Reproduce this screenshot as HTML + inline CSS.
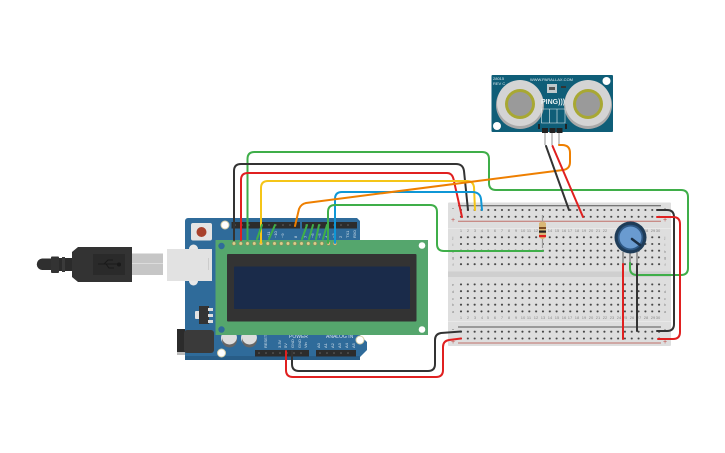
<!DOCTYPE html>
<html><head><meta charset="utf-8"><style>
html,body{margin:0;padding:0;background:#fff;width:725px;height:453px;overflow:hidden}
svg{display:block;filter:blur(.35px)}
text{font-family:"Liberation Sans",sans-serif}
</style></head><body>
<svg width="725" height="453" viewBox="0 0 725 453" xmlns="http://www.w3.org/2000/svg">
<!-- USB -->
<rect x="132" y="253.500" width="31" height="21.500" fill="#c6c6c6"/><rect x="132" y="263" width="31" height="1" fill="#dcdcdc"/>
<path d="M42 258.500H52V270H42a6 5.800 0 0 1 0-11.500z" fill="#2f2f2f"/>
<rect x="51" y="256.500" width="8" height="16.500" rx="1" fill="#333"/>
<path d="M59 258H72V271H59z" fill="#2b2b2b"/><rect x="62" y="257" width="3" height="15" fill="#3a3a3a"/>
<path d="M72 252l6-5H132V282H78l-6-5z" fill="#333"/>
<rect x="93" y="254" width="32" height="21" fill="#2a2a2a"/>
<path d="M98 264H120M104 264l4-4h5M106 264l3 4h5" stroke="#191919" fill="none" stroke-width="1"/><circle cx="119" cy="264.500" r="2" fill="#191919"/>
<!-- Arduino -->
<path d="M187 218H357L360 221V335L367 342V350L360 357V360H188a3 3 0 0 1-3-3V221a3 3 0 0 1 3-3z" fill="#2f6b9a"/>
<rect x="185" y="356" width="175" height="4" fill="#285d87"/>
<circle cx="193.500" cy="249" r="4.500" fill="#e8e8e8"/><circle cx="193.500" cy="281" r="4.500" fill="#e8e8e8"/>
<rect x="167" y="249" width="45" height="32" fill="#e2e2e2"/><rect x="208" y="258" width="1" height="12" fill="#ccc"/>
<rect x="191" y="223" width="21" height="17.500" rx="2" fill="#e4e4e4"/><circle cx="201.500" cy="232" r="5" fill="#a8412c"/>
<circle cx="225" cy="225" r="4" fill="#fff" stroke="#d8d0a8"/>
<circle cx="221.500" cy="353" r="4" fill="#fff" stroke="#d8d0a8"/>
<circle cx="360" cy="340" r="4" fill="#fff" stroke="#d8d0a8"/>
<!-- regulator -->
<rect x="195" y="311" width="6" height="8" rx="1" fill="#e2e2e2"/><rect x="199" y="306" width="10" height="18" fill="#333"/><rect x="208" y="308" width="5" height="3" fill="#ddd"/><rect x="208" y="314" width="5" height="3" fill="#ddd"/><rect x="208" y="320" width="5" height="3" fill="#ddd"/>
<!-- jack -->
<rect x="177" y="329" width="8" height="26" fill="#2b2b2b"/><rect x="177" y="352" width="8" height="3" fill="#bbb"/>
<rect x="184" y="330" width="30" height="23" rx="3" fill="#3a3a3a"/>
<!-- caps -->
<circle cx="229" cy="338" r="8" fill="#ddd"/><path d="M222 337a7.500 7.500 0 0 0 15 0v3a7.500 7.500 0 0 1-15 0z" fill="#666"/>
<circle cx="249" cy="338" r="8" fill="#ddd"/><path d="M242 337a7.500 7.500 0 0 0 15 0v3a7.500 7.500 0 0 1-15 0z" fill="#666"/>
<!-- headers -->
<rect x="231.500" y="222" width="68.500" height="6.500" fill="#2c2c2c"/><rect x="302" y="222" width="55" height="6.500" fill="#2c2c2c"/>
<rect x="255" y="350" width="54" height="6.500" fill="#2c2c2c"/><rect x="316" y="350" width="40" height="6.500" fill="#2c2c2c"/>
<g fill="#666"><circle cx="235" cy="225" r=".8"/><circle cx="242" cy="225" r=".8"/><circle cx="249" cy="225" r=".8"/><circle cx="262" cy="225" r=".8"/><circle cx="269" cy="225" r=".8"/><circle cx="276" cy="225" r=".8"/><circle cx="283" cy="225" r=".8"/><circle cx="290" cy="225" r=".8"/><circle cx="306" cy="225" r=".8"/><circle cx="313" cy="225" r=".8"/><circle cx="320" cy="225" r=".8"/><circle cx="327" cy="225" r=".8"/><circle cx="334" cy="225" r=".8"/><circle cx="341" cy="225" r=".8"/><circle cx="348" cy="225" r=".8"/><circle cx="259" cy="353" r=".8"/><circle cx="266" cy="353" r=".8"/><circle cx="273" cy="353" r=".8"/><circle cx="280" cy="353" r=".8"/><circle cx="287" cy="353" r=".8"/><circle cx="294" cy="353" r=".8"/><circle cx="301" cy="353" r=".8"/><circle cx="320" cy="353" r=".8"/><circle cx="327" cy="353" r=".8"/><circle cx="334" cy="353" r=".8"/><circle cx="341" cy="353" r=".8"/><circle cx="348" cy="353" r=".8"/></g>
<g fill="#d6e2ec" font-size="4">
<text x="289" y="338" font-size="5">POWER</text><text x="326" y="338" font-size="5">ANALOG IN</text>
<text transform="translate(320,348) rotate(-90)">A0</text><text transform="translate(327,348) rotate(-90)">A1</text><text transform="translate(334,348) rotate(-90)">A2</text><text transform="translate(341,348) rotate(-90)">A3</text><text transform="translate(348,348) rotate(-90)">A4</text><text transform="translate(355,348) rotate(-90)">A5</text>
<text transform="translate(267,348) rotate(-90)">RESET</text><text transform="translate(281,348) rotate(-90)">3.3V</text><text transform="translate(287,348) rotate(-90)">5V</text><text transform="translate(294,348) rotate(-90)">GND</text><text transform="translate(301,348) rotate(-90)">GND</text><text transform="translate(307,348) rotate(-90)">Vin</text>
<text transform="translate(270,238) rotate(-90)">~11</text><text transform="translate(277,238) rotate(-90)">~10</text><text transform="translate(284,238) rotate(-90)">~9</text><text transform="translate(297,238) rotate(-90)">8</text><text transform="translate(307,238) rotate(-90)">7</text><text transform="translate(314,238) rotate(-90)">~6</text><text transform="translate(321,238) rotate(-90)">~5</text><text transform="translate(328,238) rotate(-90)">4</text><text transform="translate(335,238) rotate(-90)">~3</text><text transform="translate(342,238) rotate(-90)">2</text><text transform="translate(349,238) rotate(-90)">TX1</text><text transform="translate(356,238) rotate(-90)">RX0</text>
</g>
<!-- LCD -->
<rect x="215.500" y="240" width="212.500" height="95" fill="#55a66d"/>
<rect x="227" y="254" width="189.500" height="67.500" rx="1" fill="#333"/>
<rect x="234" y="266.500" width="176" height="42.500" rx="1" fill="#1a2b4a"/>
<circle cx="221.500" cy="246" r="3.200" fill="#2f6b9a"/><circle cx="221.500" cy="329.500" r="3.200" fill="#2f6b9a"/>
<circle cx="422" cy="245.500" r="3.300" fill="#fff"/><circle cx="422" cy="329.500" r="3.300" fill="#fff"/>
<g fill="#d9cf8a" stroke="#8f8a5a" stroke-width=".7"><circle cx="234" cy="243.500" r="1.800"/><circle cx="240.800" cy="243.500" r="1.800"/><circle cx="247.500" cy="243.500" r="1.800"/><circle cx="254.300" cy="243.500" r="1.800"/><circle cx="261" cy="243.500" r="1.800"/><circle cx="267.800" cy="243.500" r="1.800"/><circle cx="274.500" cy="243.500" r="1.800"/><circle cx="281.300" cy="243.500" r="1.800"/><circle cx="288" cy="243.500" r="1.800"/><circle cx="294.800" cy="243.500" r="1.800"/><circle cx="301.500" cy="243.500" r="1.800"/><circle cx="308.300" cy="243.500" r="1.800"/><circle cx="315" cy="243.500" r="1.800"/><circle cx="321.800" cy="243.500" r="1.800"/><circle cx="328.500" cy="243.500" r="1.800"/><circle cx="335" cy="243.500" r="1.800"/></g>
<!-- Breadboard -->
<rect x="448" y="202.500" width="223" height="143.500" rx="1" fill="#dedede"/>
<rect x="448" y="271.500" width="223" height="5.500" fill="#cfcfcf"/>
<rect x="448" y="228" width="223" height="1" fill="#e8e8e8"/><rect x="448" y="321" width="223" height="1" fill="#e8e8e8"/>
<g stroke-width="1" fill="none"><path d="M458 205.700H661M458 327H661" stroke="#555"/><path d="M458 221.300H661M458 343H661" stroke="#c0706a"/></g>
<defs><pattern id="d" x="457.600" y="0" width="6.830" height="453" patternUnits="userSpaceOnUse"><circle cx="3.400" cy="210" r="1.050" fill="#444"/><circle cx="3.400" cy="216.800" r="1.050" fill="#444"/><circle cx="3.400" cy="237.300" r="1.050" fill="#444"/><circle cx="3.400" cy="244" r="1.050" fill="#444"/><circle cx="3.400" cy="250.700" r="1.050" fill="#444"/><circle cx="3.400" cy="257.400" r="1.050" fill="#444"/><circle cx="3.400" cy="264.200" r="1.050" fill="#444"/><circle cx="3.400" cy="284.400" r="1.050" fill="#444"/><circle cx="3.400" cy="291.200" r="1.050" fill="#444"/><circle cx="3.400" cy="298" r="1.050" fill="#444"/><circle cx="3.400" cy="304.700" r="1.050" fill="#444"/><circle cx="3.400" cy="311.400" r="1.050" fill="#444"/><circle cx="3.400" cy="331.700" r="1.050" fill="#444"/><circle cx="3.400" cy="338.500" r="1.050" fill="#444"/></pattern></defs>
<rect x="457.600" y="205" width="205" height="140" fill="url(#d)"/>
<g fill="#888" font-size="4" text-anchor="middle">
<text x="453" y="239">j</text><text x="453" y="246">i</text><text x="453" y="253">h</text><text x="453" y="259">g</text><text x="453" y="266">f</text><text x="453" y="286">e</text><text x="453" y="293">d</text><text x="453" y="300">c</text><text x="453" y="306">b</text><text x="453" y="313">a</text>
<text x="665" y="239">j</text><text x="665" y="246">i</text><text x="665" y="253">h</text><text x="665" y="259">g</text><text x="665" y="266">f</text><text x="665" y="286">e</text><text x="665" y="293">d</text><text x="665" y="300">c</text><text x="665" y="306">b</text><text x="665" y="313">a</text>
<text x="461" y="232">1</text><text x="468" y="232">2</text><text x="475" y="232">3</text><text x="482" y="232">4</text><text x="488" y="232">5</text><text x="495" y="232">6</text><text x="502" y="232">7</text><text x="509" y="232">8</text><text x="516" y="232">9</text><text x="523" y="232">10</text><text x="529" y="232">11</text><text x="536" y="232">12</text><text x="550" y="232">14</text><text x="557" y="232">15</text><text x="564" y="232">16</text><text x="570" y="232">17</text><text x="577" y="232">18</text><text x="584" y="232">19</text><text x="591" y="232">20</text><text x="598" y="232">21</text><text x="605" y="232">22</text><text x="646" y="232">28</text><text x="653" y="232">29</text><text x="658" y="232">30</text>
<text x="461" y="319">1</text><text x="468" y="319">2</text><text x="475" y="319">3</text><text x="482" y="319">4</text><text x="488" y="319">5</text><text x="495" y="319">6</text><text x="502" y="319">7</text><text x="509" y="319">8</text><text x="516" y="319">9</text><text x="523" y="319">10</text><text x="529" y="319">11</text><text x="536" y="319">12</text><text x="543" y="319">13</text><text x="550" y="319">14</text><text x="557" y="319">15</text><text x="564" y="319">16</text><text x="570" y="319">17</text><text x="577" y="319">18</text><text x="584" y="319">19</text><text x="591" y="319">20</text><text x="598" y="319">21</text><text x="605" y="319">22</text><text x="612" y="319">23</text><text x="619" y="319">24</text><text x="625" y="319">25</text><text x="632" y="319">26</text><text x="639" y="319">27</text><text x="646" y="319">28</text><text x="653" y="319">29</text><text x="658" y="319">30</text>
</g>
<g fill="#c0504a" font-size="7" text-anchor="middle"><text x="453" y="222">+</text><text x="665" y="222">+</text><text x="453" y="344">+</text><text x="665" y="344">+</text></g>
<g fill="#555" font-size="6" text-anchor="middle"><text x="453" y="210">-</text><text x="665" y="210">-</text><text x="453" y="331">-</text><text x="665" y="331">-</text></g>
<!-- Resistor -->
<path d="M542.500 215V248" stroke="#999" stroke-width="1.200"/>
<path d="M539 223q3.500-3 7 0v14q-3.500 4-7 0z" fill="#d9b776"/>
<rect x="539" y="227" width="7" height="2" fill="#7a4a20"/><rect x="539" y="230.500" width="7" height="2.200" fill="#222"/><rect x="539" y="235" width="7" height="2.200" fill="#e02020"/>
<!-- Potentiometer -->
<path d="M623 252V264M630 252V264M637 252V264" stroke="#9a9a9a" stroke-width="2"/>
<circle cx="630.500" cy="237.500" r="16" fill="#1f3c58"/><circle cx="630.500" cy="237.500" r="12.800" fill="#2e5885"/><circle cx="630.500" cy="237.500" r="11" fill="#6a9bd0"/>
<path d="M632 239L640 245" stroke="#1b2f45" stroke-width="2.500" stroke-linecap="round"/>
<!-- Ping -->
<rect x="491.500" y="75" width="121.500" height="57" rx="1" fill="#0f5e78"/>
<circle cx="520" cy="105" r="24" fill="#a9a9a9"/><circle cx="520" cy="103" r="23" fill="#d4d4d4"/><circle cx="520" cy="104" r="15" fill="#a8a833"/><circle cx="520" cy="104" r="12" fill="#9a9a9a"/>
<circle cx="588" cy="105" r="24" fill="#a9a9a9"/><circle cx="588" cy="103" r="23" fill="#d4d4d4"/><circle cx="588" cy="104" r="15" fill="#a8a833"/><circle cx="588" cy="104" r="12" fill="#9a9a9a"/>
<circle cx="606.500" cy="81" r="4" fill="#fff"/><circle cx="497" cy="126" r="4" fill="#fff"/>
<rect x="547" y="84" width="10" height="9" fill="#bfc9cc"/><rect x="549" y="87" width="6" height="3" fill="#555"/><rect x="561" y="86" width="5" height="2" fill="#333"/>
<text x="551.500" y="81" fill="#dfeaee" font-size="4" text-anchor="middle">WWW.PARALLAX.COM</text>
<text x="493" y="80" fill="#dfeaee" font-size="4">28015</text><text x="493" y="85" fill="#dfeaee" font-size="4">REV C</text>
<text x="541" y="104" fill="#e8f0f2" font-size="7" font-weight="bold">PING)))</text>
<path d="M541.500 109H565V123H541.500zM549.500 109V123M557 109V123" fill="none" stroke="#e8f0f2" stroke-width=".6"/>
<rect x="542" y="128" width="6" height="5" fill="#222"/><rect x="549.500" y="128" width="6" height="5" fill="#222"/><rect x="556.500" y="128" width="6" height="5" fill="#222"/>
<rect x="538" y="124" width="2" height="5" fill="#222"/><rect x="565" y="124" width="2" height="5" fill="#222"/>
<path d="M545 133V145M552 133V145M559 133V145" stroke="#c8c8c8" stroke-width="2"/>
<!-- Wires -->
<g fill="none" stroke-width="2" stroke-linecap="round" stroke-linejoin="round">
<path d="M247.500 240V159q0-7 7-7H482q7 0 7 7V183q0 7 7 7H681q7 0 7 7V268q0 7-7 7H637q-7 0-7-7V263" stroke="#3fae49"/>
<path d="M234 240V171q0-7 7-7H456q7 0 8 7L468 210" stroke="#333"/>
<path d="M241 240V180q0-7 7-7H447q5 0 6.500 6L462 217" stroke="#e02020"/>
<path d="M261 243V188q0-7 7-7H467q6 0 7 6L475 210" stroke="#f5c518"/>
<path d="M335 243V199q0-7 7-7H472q8 0 9 7L482 210" stroke="#0f97d6"/>
<path d="M328 243V212q0-7 7-7H430q7 0 7 7V244q0 7 7 7H543" stroke="#3fae49"/>
<path d="M295 226L299 209q2-5 7-6L563 170q7-1 7-8V153q0-8-8-8H559" stroke="#ee7f00"/>
<path d="M257 239L262 225M269 239L275 225M302 239L307 225M309 239L313 225M316 239L319 225M323 239L327 225" stroke="#3fae49"/>
<path d="M546 146L569 210" stroke="#333"/><path d="M552.500 146L583 217" stroke="#e02020"/>
<path d="M623 264V339" stroke="#e02020"/><path d="M637 264V331" stroke="#333"/>
<path d="M657 210H667q7 0 7 7V324q0 7-7 7H657" stroke="#333"/>
<path d="M657 217H673q7 0 7 7V332q0 7-7 7H658" stroke="#e02020"/>
<path d="M461 331.500L441 333q-6 1-6 7V364q0 7-7 7H299q-7 0-7-7V351" stroke="#333"/>
<path d="M461 338.500L449 340q-6 1-6 7V370q0 7-7 7H293q-7 0-7-7V351" stroke="#e02020"/>
</g>
</svg>
</body></html>
